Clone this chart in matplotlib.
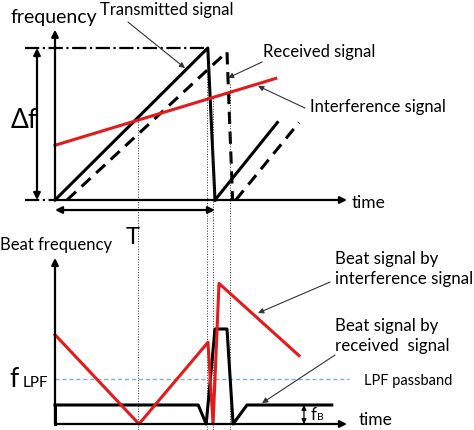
"""FMCW radar interference sketch: chirps on top, beat frequencies below."""

import matplotlib
matplotlib.use("Agg")
import matplotlib.pyplot as plt

plt.rcParams["font.family"] = ["Lato", "DejaVu Sans"]

# time in units of the chirp period T, frequency in units of the sweep width
tx_t = [0.0, 0.955, 1.0]
tx_f = [0.0, 1.0, 0.0]
tx2_t = [1.0, 1.39]
tx2_f = [0.0, 0.51]
rx_t = [0.075, 1.075, 1.11]
rx_f = [0.0, 0.975, 0.0]
rx2_t = [1.13, 1.525]
rx2_f = [0.0, 0.51]
intf_t = [0.0, 1.38]
intf_f = [0.36, 0.80]

# beat frequencies (units of f_B)
beat_int_t = [0.0, 0.525, 0.956, 0.988, 1.025, 1.525]
beat_int_f = [4.7, 0.0, 4.3, 0.0, 7.4, 3.6]
beat_rx_t = [0.0, 0.895, 0.945, 1.0, 1.075, 1.113, 1.2, 1.73]
beat_rx_f = [1.0, 1.0, 0.0, 5.0, 5.0, 0.0, 1.0, 1.0]
f_lpf = 2.37
f_b = 1.0

# dotted guide times and where they start in the chirp plot
guide_t = [0.52, 0.95, 0.988, 1.094]
guide_f = [0.53, 0.85, 0.67, 0.76]

RED = "#e41a1c"
GREY = "#333333"

fig = plt.figure(figsize=(4.74, 4.30), dpi=100)
ax = fig.add_axes([0, 0.4884, 1, 0.5116])
bx = fig.add_axes([0, 0, 1, 0.4884])
for a in (ax, bx):
    a.set_xlim(-0.34375, 2.61875)
    a.axis("off")
ax.set_ylim(-0.1316, 1.316)
bx.set_ylim(-0.316, 10.737)

axis_arrow = dict(arrowstyle="-|>", color="black", lw=1.6, mutation_scale=10,
                  shrinkA=0, shrinkB=0)
thin_arrow = dict(arrowstyle="-|>", color=GREY, lw=0.8, mutation_scale=8,
                  shrinkA=0, shrinkB=0)

# --- top: chirps ---
ax.annotate("", xy=(0, 1.12), xytext=(0, 0), arrowprops=axis_arrow)
ax.annotate("", xy=(1.825, 0), xytext=(0, 0), arrowprops=axis_arrow)
ax.plot([-0.19, 0.955], [1.0, 1.0], color="black", lw=1.6, ls="-.")
ax.plot([-0.19, 0.0], [0.0, 0.0], color="black", lw=1.6, ls="-.")
ax.annotate("", xy=(-0.1125, 1.0), xytext=(-0.1125, 0.0),
            arrowprops=dict(arrowstyle="<|-|>", color="black", lw=1.6,
                            mutation_scale=10, shrinkA=0, shrinkB=0))
ax.annotate("", xy=(1.0, -0.066), xytext=(0.0, -0.066),
            arrowprops=dict(arrowstyle="<|-|>", color="black", lw=1.6,
                            mutation_scale=10, shrinkA=0, shrinkB=0))

ax.plot(tx_t, tx_f, color="black", lw=2.2)
ax.plot(tx2_t, tx2_f, color="black", lw=2.2)
ax.plot(rx_t, rx_f, color="black", lw=2.2, ls=(0, (4, 2.5)))
ax.plot(rx2_t, rx2_f, color="black", lw=2.2, ls=(0, (4, 2.5)))
ax.plot(intf_t, intf_f, color=RED, lw=2.2)

for t, f in zip(guide_t, guide_f):
    ax.plot([t, t], [f, -0.1316], color=GREY, lw=0.7, ls=":", clip_on=False)
    bx.plot([t, t], [10.737, -0.316], color=GREY, lw=0.7, ls=":", clip_on=False)

ax.text(-0.281, 1.204, "frequency", fontsize=14, va="center")
ax.text(-0.28, 0.526, "\u0394f", fontsize=19, va="center")
ax.text(1.856, -0.02, "time", fontsize=12.5, va="center")
ax.text(0.281, 1.25, "Transmitted signal", fontsize=12, va="center")
ax.text(1.30, 0.974, "Received signal", fontsize=12, va="center")
ax.text(1.594, 0.612, "Interference signal", fontsize=12, va="center")
ax.annotate("", xy=(0.8125, 0.868), xytext=(0.456, 1.171), arrowprops=thin_arrow)
ax.annotate("", xy=(1.081, 0.803), xytext=(1.294, 0.908), arrowprops=thin_arrow)
ax.annotate("", xy=(1.269, 0.75), xytext=(1.5625, 0.605), arrowprops=thin_arrow)

# --- bottom: beat frequencies ---
bx.annotate("", xy=(0, 8.74), xytext=(0, 0), arrowprops=axis_arrow)
bx.annotate("", xy=(1.825, 0), xytext=(0, 0), arrowprops=axis_arrow)
bx.plot([0, 0], [0, 1.0], color="black", lw=2.2)
bx.plot([0, 1.84], [f_lpf, f_lpf], color="#7fb0d8", lw=1.0, ls=(0, (3, 2)))
bx.plot(beat_rx_t, beat_rx_f, color="black", lw=2.2)
bx.plot(beat_int_t, beat_int_f, color=RED, lw=2.2)
bx.annotate("", xy=(1.556, f_b), xytext=(1.556, 0),
            arrowprops=dict(arrowstyle="<|-|>", color="black", lw=0.9,
                            mutation_scale=7, shrinkA=0, shrinkB=0))

bx.text(0.4875, 9.84, "T", fontsize=17, ha="center", va="center")
bx.text(-0.344, 9.42, "Beat frequency", fontsize=12, va="center")
bx.text(-0.285, 1.95, "f", fontsize=19, va="baseline")
bx.text(-0.205, 1.95, "LPF", fontsize=11, va="baseline")
bx.text(1.93, 2.26, "LPF passband", fontsize=10.5, va="center")
bx.text(1.598, 0.2, "f", fontsize=12, va="baseline")
bx.text(1.64, 0.2, "B", fontsize=7.5, va="baseline")
bx.text(1.90, 0.21, "time", fontsize=12.5, va="center")
bx.text(1.75, 8.16, "Beat signal by\ninterference signal", fontsize=12.2,
        va="center", linespacing=1.25)
bx.text(1.75, 4.63, "Beat signal by\nreceived  signal", fontsize=12.2,
        va="center", linespacing=1.25)
bx.annotate("", xy=(1.269, 5.84), xytext=(1.719, 7.47), arrowprops=thin_arrow)
bx.annotate("", xy=(1.294, 1.1), xytext=(1.75, 3.63), arrowprops=thin_arrow)

fig.savefig("out.png", dpi=100)
